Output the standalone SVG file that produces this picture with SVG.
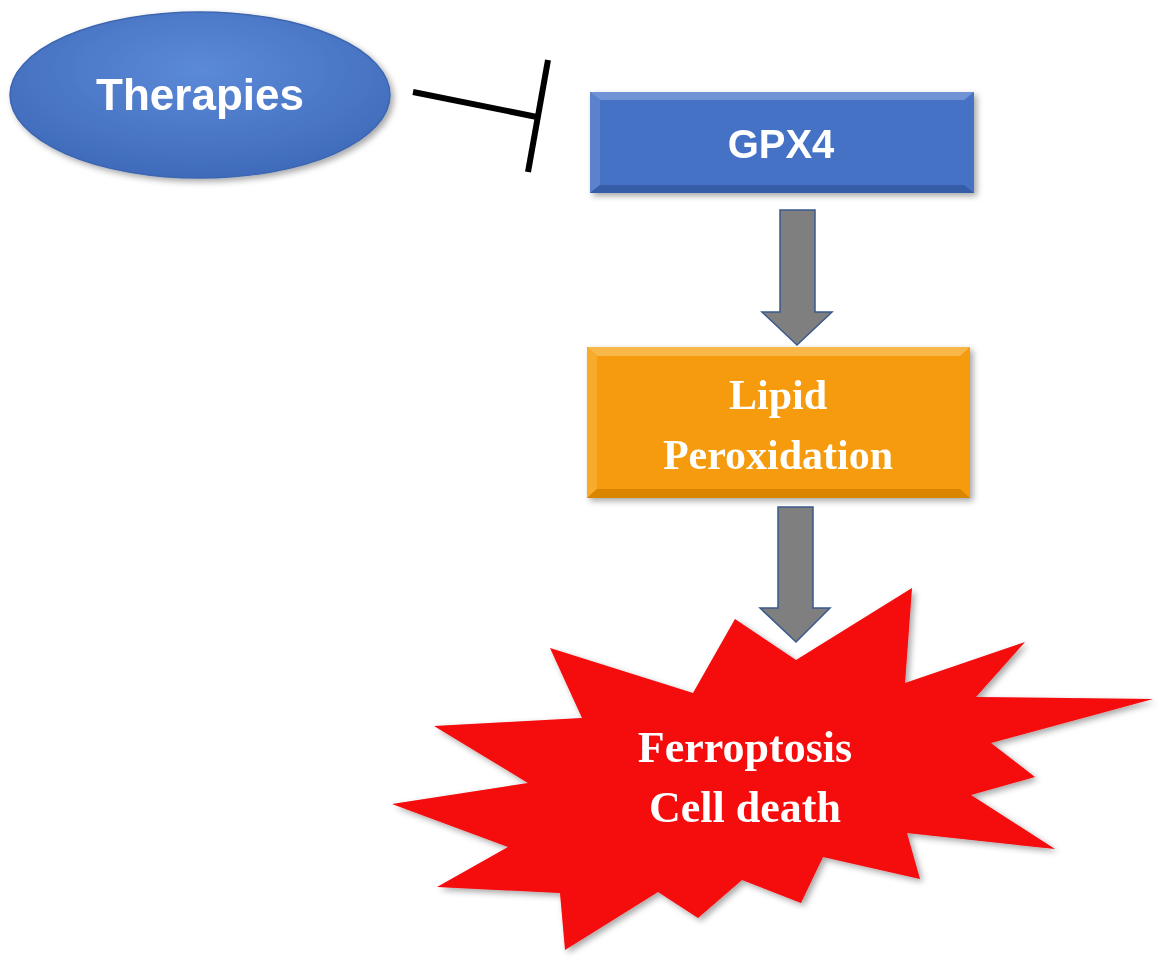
<svg xmlns="http://www.w3.org/2000/svg" width="1162" height="965" viewBox="0 0 1162 965">
<style>
.sans{font-family:"Liberation Sans",Arial,sans-serif;font-weight:bold;fill:#fff;text-anchor:middle}
.serif{font-family:"Liberation Serif","Times New Roman",serif;font-weight:bold;fill:#fff;text-anchor:middle}
.arr{fill:#7f7f7f;stroke:#3a5a8c;stroke-width:1.5}
</style>
<defs>
<radialGradient id="eg" cx="0.5" cy="0.35" r="0.7"><stop offset="0" stop-color="#5b8ad8"/><stop offset="1" stop-color="#3d68b8"/></radialGradient>
<filter id="sh" x="-10%" y="-10%" width="130%" height="130%"><feDropShadow dx="3" dy="3" stdDeviation="3" flood-opacity="0.35"/></filter>
</defs>
<rect width="1162" height="965" fill="#fff"/>
<g id="therapies" filter="url(#sh)">
<ellipse cx="200" cy="95" rx="190" ry="83" fill="url(#eg)" stroke="#3e66b0" stroke-width="1.5"/>
<text class="sans" x="200" y="110" font-size="44">Therapies</text>
</g>
<g id="gpx4" filter="url(#sh)">
<rect x="590" y="92" width="384" height="101" fill="#4472c4"/>
<polygon points="590,92 974,92 964,100 600,100" fill="#6f93d6"/>
<polygon points="590,92 600,100 600,185 590,193" fill="#5b82cc"/>
<polygon points="590,193 600,185 964,185 974,193" fill="#345da8"/>
<text class="sans" x="781" y="158" font-size="40">GPX4</text>
</g>
<g id="lipid" filter="url(#sh)">
<rect x="587" y="347" width="383" height="151" fill="#f59b0b"/>
<polygon points="587,347 970,347 960,356 597,356" fill="#f8b84a"/>
<polygon points="587,347 597,356 597,489 587,498" fill="#f7ab2c"/>
<polygon points="587,498 597,489 960,489 970,498" fill="#d98505"/>
<text class="serif" x="778" y="409" font-size="42">Lipid</text>
<text class="serif" x="778" y="469" font-size="42">Peroxidation</text>
</g>
<g id="ferroptosis" filter="url(#sh)">
<polygon fill="#f5080a" points="735,619 796,660 912,588 905,683 1025,642 976,697 1153,699 991,743 1035,777 971,795 1055,849 907,833 920,879 823,857 801,903 742,880 698,918 658,892 565,950 560,893 437,887 508,847 392,804 528,783 434,726 582,718 550,648 693,693"/>
<text class="serif" x="745" y="762" font-size="44">Ferroptosis</text>
<text class="serif" x="745" y="822" font-size="44">Cell death</text>
</g>
<g id="connectors">
<line x1="413" y1="92" x2="537" y2="117" stroke="#000" stroke-width="6"/>
<line x1="548" y1="60" x2="528" y2="172" stroke="#000" stroke-width="6"/>
<polygon class="arr" points="780,210 815,210 815,312 832,312 797,345 762,312 780,312"/>
<polygon class="arr" points="778,507 813,507 813,608 830,608 796,642 760,608 778,608"/>
</g>
</svg>
